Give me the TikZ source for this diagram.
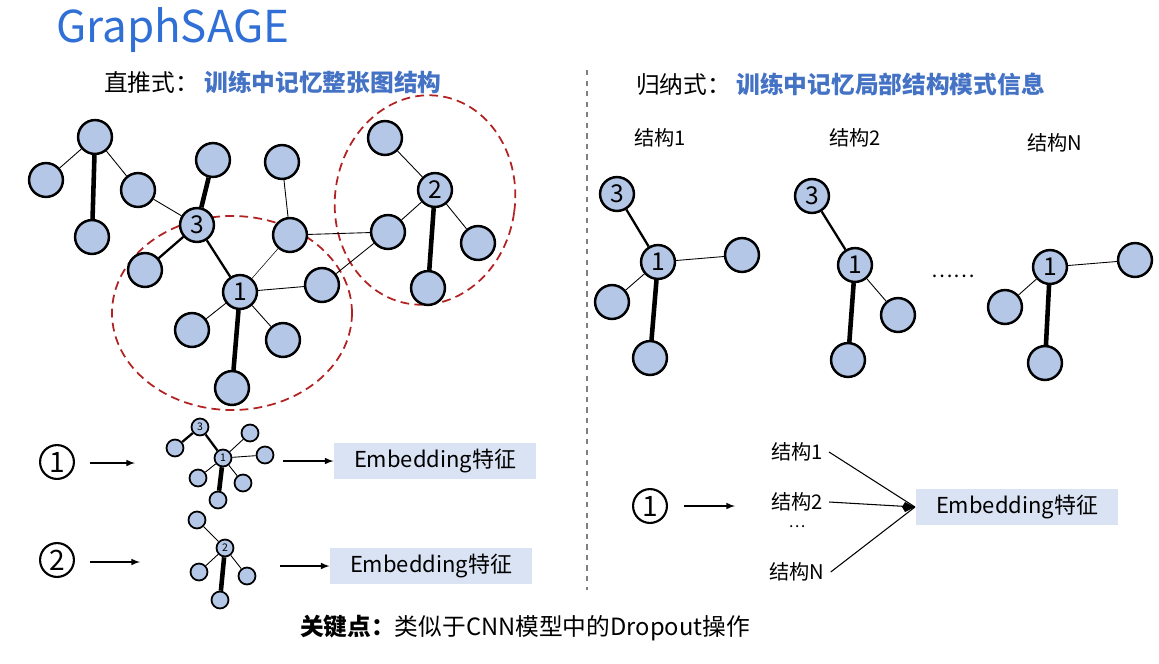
\documentclass[tikz,border=0pt]{standalone}
\usepackage{fontspec}
\setmainfont{Noto Sans CJK SC}
\definecolor{nodefill}{HTML}{B4C7E7}
\definecolor{boxfill}{HTML}{DAE3F3}
\definecolor{titleblue}{HTML}{2F6FD6}
\definecolor{headblue}{HTML}{4472C4}
\definecolor{ringred}{HTML}{B22222}
\tikzset{
  vbig/.style={circle, draw, line width=1.4pt, fill=nodefill, minimum size=34*0.567pt, inner sep=0pt, font=\fontsize{14}{14}\selectfont},
  vsmall/.style={circle, draw, line width=1pt, fill=nodefill, minimum size=17*0.567pt, inner sep=0pt, font=\fontsize{6}{6}\selectfont},
  lthin/.style={line width=0.5pt},
  lmid/.style={line width=1.3pt},
  lthick/.style={line width=2.6pt},
  embbox/.style={fill=boxfill, minimum width=203*0.567pt, minimum height=32*0.567pt, font=\fontsize{12.5}{13}\selectfont},
  numring/.style={circle, draw, line width=1.2pt, minimum size=34*0.567pt, inner sep=0pt, font=\fontsize{16}{16}\selectfont},
  flowarrow/.style={-latex, line width=0.7pt},
  label/.style={font=\fontsize{11.5}{12}\selectfont},
  ring/.style={ringred, line width=1pt, dash pattern=on 5pt off 3pt},
}
\begin{document}
\begin{tikzpicture}[x=0.02cm, y=-0.02cm]
\useasboundingbox (0,0) rectangle (1159,663);
% title and headings
\node[anchor=west, text=titleblue, font=\fontsize{25}{25}\selectfont] (title) at (50,30) {GraphSAGE};
\node[anchor=west, font=\fontsize{13.5}{14}\selectfont] (headL) at (98,82) {直推式： \textcolor{headblue}{\bfseries 训练中记忆整张图结构}};
\node[anchor=west, font=\fontsize{13.5}{14}\selectfont] (headR) at (630,84) {归纳式： \textcolor{headblue}{\bfseries 训练中记忆局部结构模式信息}};
\draw[gray, dashed, line width=0.6pt] (587,70) -- (587,590);
% whole graph
\draw[ring] (232,313) ellipse (120 and 97);
\draw[ring, rotate around={-8:(425,200)}] (425,200) ellipse (90 and 105);
\node[vbig] (a) at (95,137) {};
\node[vbig] (b) at (46,180) {};
\node[vbig] (c) at (138,190) {};
\node[vbig] (d) at (92,237) {};
\node[vbig] (e) at (213,160) {};
\node[vbig] (f) at (282,162) {};
\node[vbig] (g) at (290,235) {};
\node[vbig] (h) at (145,270) {};
\node[vbig] (i) at (322,285) {};
\node[vbig] (j) at (192,330) {};
\node[vbig] (k) at (283,340) {};
\node[vbig] (l) at (232,388) {};
\node[vbig] (m) at (385,138) {};
\node[vbig] (o) at (388,232) {};
\node[vbig] (p) at (478,243) {};
\node[vbig] (q) at (428,288) {};
\node[vbig] (n3) at (197,225) {3};
\node[vbig] (n1) at (240,292) {1};
\node[vbig] (n2) at (435,190) {2};
\draw[lthin] (a) -- (b) (a) -- (c) (c) -- (n3) (g) -- (f) (g) -- (o) (n1) -- (i) (i) -- (o)
  (n1) -- (j) (n1) -- (k) (m) -- (n2) (n2) -- (o) (n2) -- (p);
\draw[line width=0.3pt] (n1) -- (g);
\draw[lmid] (n3) -- (h) (n3) -- (n1);
\draw[lthick] (a) -- (d) (e) -- (n3) (n1) -- (l) (n2) -- (q);
% local structures
\node[label] (s1) at (660,138) {结构1};
\node[vbig] (s1a) at (617,194) {3};
\node[vbig] (s1b) at (658,262) {1};
\node[vbig] (s1c) at (742,255) {};
\node[vbig] (s1d) at (612,302) {};
\node[vbig] (s1e) at (650,358) {};
\draw[lmid] (s1a) -- (s1b);
\draw[lthin] (s1b) -- (s1c) (s1b) -- (s1d);
\draw[lthick] (s1b) -- (s1e);
\node[label] (s2) at (855,138) {结构2};
\node[vbig] (s2a) at (812,196) {3};
\node[vbig] (s2b) at (855,265) {1};
\node[vbig] (s2c) at (898,315) {};
\node[vbig] (s2e) at (848,360) {};
\draw[lmid] (s2a) -- (s2b);
\draw[lthin] (s2b) -- (s2c);
\draw[lthick] (s2b) -- (s2e);
\node[label] (dots) at (953,276) {……};
\node[label] (sn) at (1055,143) {结构N};
\node[vbig] (snb) at (1050,267) {1};
\node[vbig] (snc) at (1135,260) {};
\node[vbig] (snd) at (1005,307) {};
\node[vbig] (sne) at (1045,363) {};
\draw[lthin] (snb) -- (snc) (snb) -- (snd);
\draw[lthick] (snb) -- (sne);
% sampled neighbourhood of 1
\node[numring] (c1) at (57,462) {1};
\node[vsmall] (t3) at (200,427) {3};
\node[vsmall] (tl) at (175,448) {};
\node[vsmall] (t1) at (223,458) {1};
\node[vsmall] (ttr) at (250,433) {};
\node[vsmall] (tr) at (265,455) {};
\node[vsmall] (tll) at (198,478) {};
\node[vsmall] (tlr) at (243,483) {};
\node[vsmall] (tb) at (218,500) {};
\draw[lmid] (t3) -- (tl) (t3) -- (t1);
\draw[lthin] (t1) -- (ttr) (t1) -- (tr) (t1) -- (tll) (t1) -- (tlr);
\draw[lthick] (t1) -- (tb);
\node[embbox] (emb1) at (435,461) {Embedding特征};
\coordinate (from1) at (90,463);
\coordinate (in1) at (135,463);
\coordinate (out1) at (283,461);
\draw[flowarrow] (from1) -- (in1);
\draw[flowarrow] (out1) -- (emb1);
% sampled neighbourhood of 2
\node[numring] (c2) at (57,560) {2};
\node[vsmall] (ut) at (197,520) {};
\node[vsmall] (u2) at (225,548) {2};
\node[vsmall] (ul) at (199,572) {};
\node[vsmall] (ur) at (247,576) {};
\node[vsmall] (ub) at (220,600) {};
\draw[lthin] (ut) -- (u2) (u2) -- (ul) (u2) -- (ur);
\draw[lthick] (u2) -- (ub);
\node[embbox] (emb2) at (431,566) {Embedding特征};
\coordinate (from2) at (90,562);
\coordinate (in2) at (140,562);
\coordinate (out2) at (280,566);
\draw[flowarrow] (from2) -- (in2);
\draw[flowarrow] (out2) -- (emb2);
% inductive aggregation
\node[numring] (c3) at (650,506) {1};
\coordinate (from3) at (684,506);
\coordinate (in3) at (735,506);
\draw[flowarrow] (from3) -- (in3);
\node[label] (r1) at (797,452) {结构1};
\node[label] (r2) at (797,502) {结构2};
\node[label, font=\fontsize{9}{9}\selectfont] (rd) at (797,527) {…};
\node[label] (rn) at (797,572) {结构N};
\node[embbox] (emb3) at (1017,507) {Embedding特征};
\coordinate (join) at (915,507);
\draw[line width=0.6pt] (r1.east) -- (join) (r2.east) -- (join) (rn.east) -- (join);
\fill (join) -- ++(-10,-5) -- ++(-3,5) -- ++(3,5) -- cycle;
% key point
\node[font=\fontsize{13.5}{14}\selectfont] (key) at (525,628) {\textbf{关键点：}类似于CNN模型中的Dropout操作};
\end{tikzpicture}
\end{document}
